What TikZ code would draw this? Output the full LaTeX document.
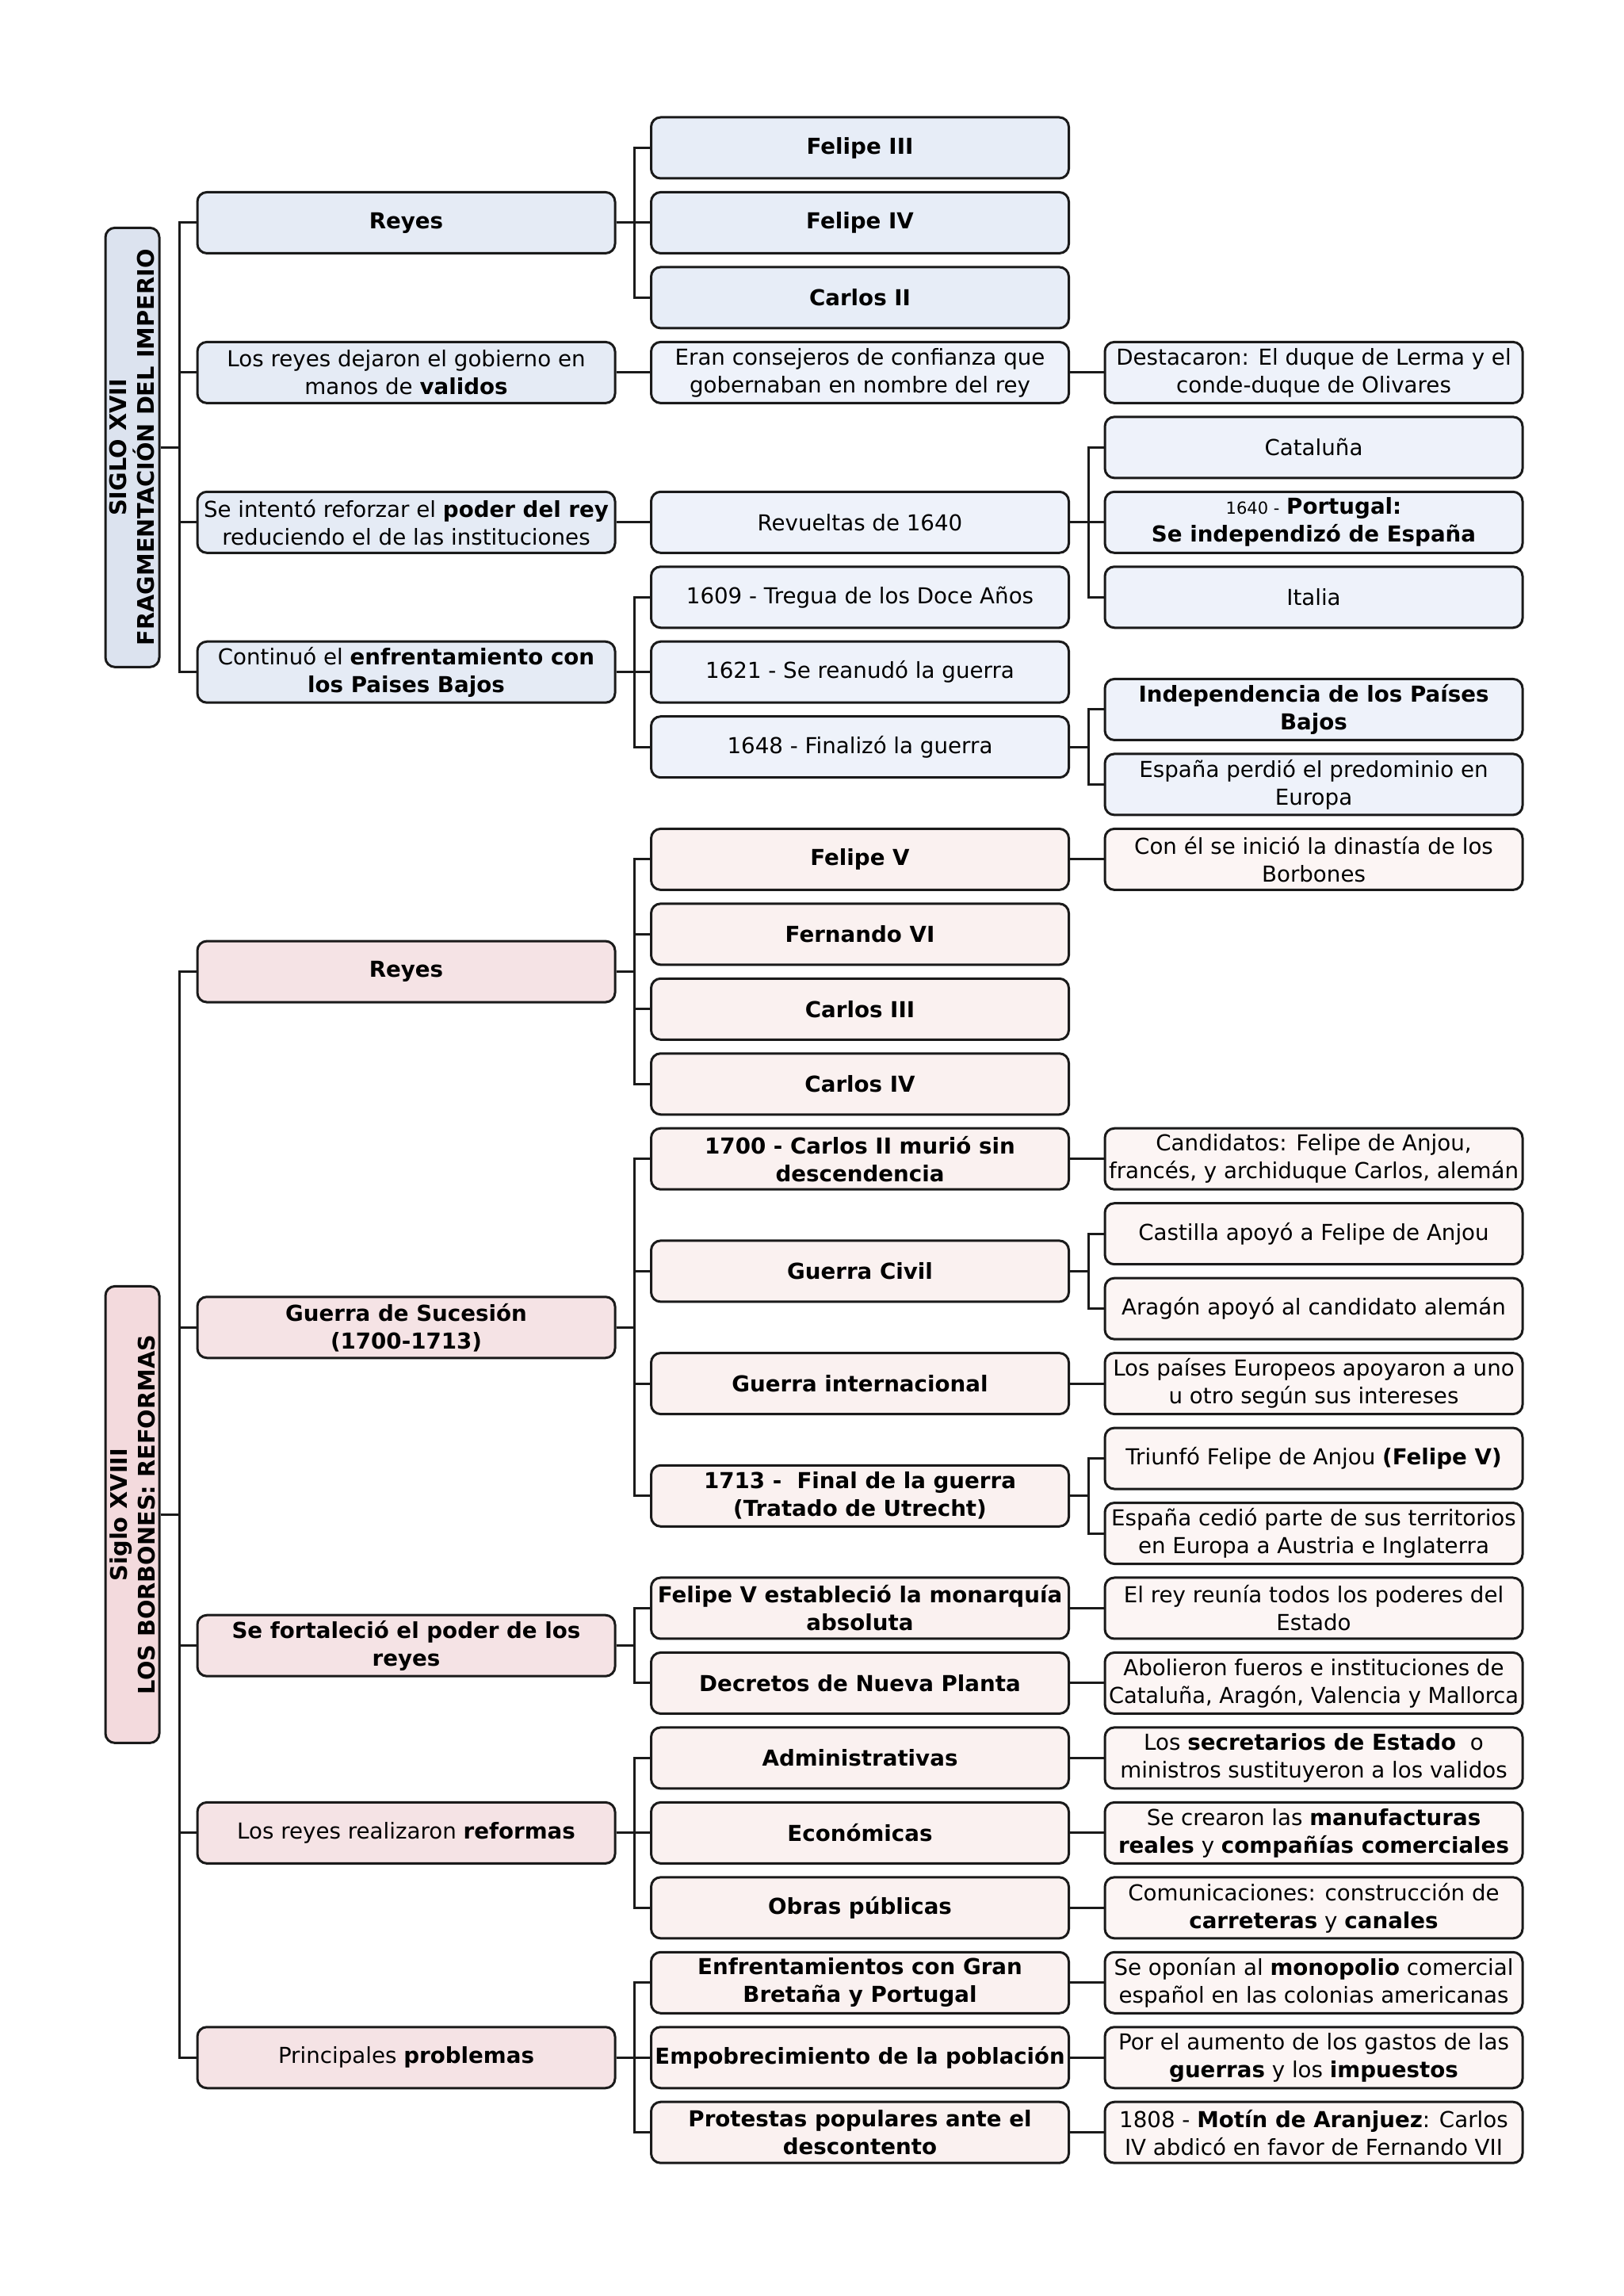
\documentclass[tikz,border=0pt]{standalone}
\usepackage{fontspec}
\setmainfont{DejaVu Sans}
\usetikzlibrary{backgrounds}
\definecolor{ink}{HTML}{1A1A1A}
\definecolor{tblue}{HTML}{DCE3EF}
\definecolor{blueA}{HTML}{E5EBF5}
\definecolor{blueK}{HTML}{E7EDF7}
\definecolor{blueB}{HTML}{EEF2FA}
\definecolor{tpink}{HTML}{F3DADD}
\definecolor{pinkA}{HTML}{F5E3E5}
\definecolor{pinkB}{HTML}{FAF1F0}
\definecolor{pinkC}{HTML}{FCF5F4}
\newsavebox\flbox
\newcommand\fl[1]{\sbox\flbox{#1}\ifdim\wd\flbox>517pt\resizebox{517pt}{\height}{\usebox\flbox}\else\usebox\flbox\fi}
\tikzset{
  box/.style={draw=ink, line width=3pt, rounded corners=12pt, minimum width=527pt,
    minimum height=77pt, align=center, inner xsep=2pt, inner ysep=2pt,
    font=\fontsize{27.7}{35}\selectfont},
  titlebox/.style={draw=ink, line width=3pt, rounded corners=12pt, minimum width=68pt},
  titletext/.style={rotate=90, align=center, inner sep=0pt,
    font=\fontsize{28.8}{35}\selectfont\bfseries},
  conn/.style={draw=ink, line width=3pt},
  bA/.style={box, fill=blueA}, bK/.style={box, fill=blueK}, bB/.style={box, fill=blueB},
  pA/.style={box, fill=pinkA}, pB/.style={box, fill=pinkB}, pC/.style={box, fill=pinkC}
}
\begin{document}
\begin{tikzpicture}[x=1pt, y=-94.46pt]
\useasboundingbox (0,-1.97438) rectangle (2048,28.6841);
% ---------- Siglo XVII ----------
\node[titlebox, fill=tblue, minimum height=554pt] (T1) at (167,4) {};
\node[titletext] (T1t) at (T1.center) {SIGLO XVII\\FRAGMENTACIÓN DEL IMPERIO};
\node[bA] (A1) at (512.5,1) {\bfseries Reyes};
\node[bA] (A2) at (512.5,3) {\fl{Los reyes dejaron el gobierno en}\\\fl{manos de \textbf{validos}}};
\node[bA] (A3) at (512.5,5) {\fl{Se intentó reforzar el \textbf{poder del rey}}\\\fl{reduciendo el de las instituciones}};
\node[bA] (A4) at (512.5,7) {\fl{Continuó el \textbf{enfrentamiento con}}\\\fl{\textbf{los Paises Bajos}}};
\node[bK] (B1) at (1085,0) {\bfseries Felipe III};
\node[bK] (B2) at (1085,1) {\bfseries Felipe IV};
\node[bK] (B3) at (1085,2) {\bfseries Carlos II};
\node[bB] (B4) at (1085,3) {\fl{Eran consejeros de confianza que}\\\fl{gobernaban en nombre del rey}};
\node[bB] (B5) at (1085,5) {Revueltas de 1640};
\node[bB] (B6) at (1085,6) {\fl{1609 - Tregua de los Doce Años}};
\node[bB] (B7) at (1085,7) {1621 - Se reanudó la guerra};
\node[bB] (B8) at (1085,8) {1648 - Finalizó la guerra};
\node[bB] (C4) at (1657.5,3) {\fl{Destacaron: El duque de Lerma y el}\\\fl{conde-duque de Olivares}};
\node[bB] (C5a) at (1657.5,4) {Cataluña};
\node[bB] (C5b) at (1657.5,5) {\fl{{\fontsize{21}{24}\selectfont 1640 -} \textbf{Portugal:}}\\\fl{\textbf{Se independizó de España}}};
\node[bB] (C5c) at (1657.5,6) {Italia};
\node[bB] (C8a) at (1657.5,7.5) {\fl{\textbf{Independencia de los Países}}\\\fl{\textbf{Bajos}}};
\node[bB] (C8b) at (1657.5,8.5) {\fl{España perdió el predominio en}\\\fl{Europa}};
% ---------- Siglo XVIII ----------
\node[titlebox, fill=tpink, minimum height=576pt] (T2) at (167,18.25) {};
\node[titletext] (T2t) at (T2.center) {Siglo XVIII\\LOS BORBONES: REFORMAS};
\node[pA] (D1) at (512.5,11) {\bfseries Reyes};
\node[pA] (D2) at (512.5,15.75) {\fl{\textbf{Guerra de Sucesión}}\\\fl{\textbf{(1700-1713)}}};
\node[pA] (D3) at (512.5,20) {\fl{\textbf{Se fortaleció el poder de los}}\\\fl{\textbf{reyes}}};
\node[pA] (D4) at (512.5,22.5) {\fl{Los reyes realizaron \textbf{reformas}}};
\node[pA] (D5) at (512.5,25.5) {\fl{Principales \textbf{problemas}}};
\node[pB] (E1) at (1085,9.5) {\bfseries Felipe V};
\node[pB] (E2) at (1085,10.5) {\bfseries Fernando VI};
\node[pB] (E3) at (1085,11.5) {\bfseries Carlos III};
\node[pB] (E4) at (1085,12.5) {\bfseries Carlos IV};
\node[pB] (E5) at (1085,13.5) {\fl{\textbf{1700 - Carlos II murió sin}}\\\fl{\textbf{descendencia}}};
\node[pB] (E6) at (1085,15) {\bfseries Guerra Civil};
\node[pB] (E7) at (1085,16.5) {\fl{\textbf{Guerra internacional}}};
\node[pB] (E8) at (1085,18) {\fl{\textbf{1713 -~~Final de la guerra}}\\\fl{\textbf{(Tratado de Utrecht)}}};
\node[pB] (E9) at (1085,19.5) {\fl{\textbf{Felipe V estableció la monarquía}}\\\fl{\textbf{absoluta}}};
\node[pB] (E10) at (1085,20.5) {\fl{\textbf{Decretos de Nueva Planta}}};
\node[pB] (E11) at (1085,21.5) {\bfseries Administrativas};
\node[pB] (E12) at (1085,22.5) {\bfseries Económicas};
\node[pB] (E13) at (1085,23.5) {\bfseries Obras públicas};
\node[pB] (E14) at (1085,24.5) {\fl{\textbf{Enfrentamientos con Gran}}\\\fl{\textbf{Bretaña y Portugal}}};
\node[pB] (E15) at (1085,25.5) {\fl{\textbf{Empobrecimiento de la población}}};
\node[pB] (E16) at (1085,26.5) {\fl{\textbf{Protestas populares ante el}}\\\fl{\textbf{descontento}}};
\node[pC] (F1) at (1657.5,9.5) {\fl{Con él se inició la dinastía de los}\\\fl{Borbones}};
\node[pC] (F5) at (1657.5,13.5) {\fl{Candidatos: Felipe de Anjou,}\\\fl{francés, y archiduque Carlos, alemán}};
\node[pC] (F6a) at (1657.5,14.5) {\fl{Castilla apoyó a Felipe de Anjou}};
\node[pC] (F6b) at (1657.5,15.5) {\fl{Aragón apoyó al candidato alemán}};
\node[pC] (F7) at (1657.5,16.5) {\fl{Los países Europeos apoyaron a uno}\\\fl{u otro según sus intereses}};
\node[pC] (F8a) at (1657.5,17.5) {\fl{Triunfó Felipe de Anjou \textbf{(Felipe V)}}};
\node[pC] (F8b) at (1657.5,18.5) {\fl{España cedió parte de sus territorios}\\\fl{en Europa a Austria e Inglaterra}};
\node[pC] (F9) at (1657.5,19.5) {\fl{El rey reunía todos los poderes del}\\\fl{Estado}};
\node[pC] (F10) at (1657.5,20.5) {\fl{Abolieron fueros e instituciones de}\\\fl{Cataluña, Aragón, Valencia y Mallorca}};
\node[pC] (F11) at (1657.5,21.5) {\fl{Los \textbf{secretarios de Estado}~~o}\\\fl{ministros sustituyeron a los validos}};
\node[pC] (F12) at (1657.5,22.5) {\fl{Se crearon las \textbf{manufacturas}}\\\fl{\textbf{reales} y \textbf{compañías comerciales}}};
\node[pC] (F13) at (1657.5,23.5) {\fl{Comunicaciones: construcción de}\\\fl{\textbf{carreteras} y \textbf{canales}}};
\node[pC] (F14) at (1657.5,24.5) {\fl{Se oponían al \textbf{monopolio} comercial}\\\fl{español en las colonias americanas}};
\node[pC] (F15) at (1657.5,25.5) {\fl{Por el aumento de los gastos de las}\\\fl{\textbf{guerras} y los \textbf{impuestos}}};
\node[pC] (F16) at (1657.5,26.5) {\fl{1808 - \textbf{Motín de Aranjuez}: Carlos}\\\fl{IV abdicó en favor de Fernando VII}};
% ---------- connectors ----------
\begin{pgfonlayer}{background}
\fill[white] (0,-1.97438) rectangle (2048,28.6841);
\foreach \c in {A1,A2,A3,A4} \draw[conn] (T1.east) -- ++(24,0) |- (\c.west);
\foreach \c in {B1,B2,B3} \draw[conn] (A1.east) -- ++(23,0) |- (\c.west);
\draw[conn] (A2.east) -- (B4.west);
\draw[conn] (B4.east) -- (C4.west);
\draw[conn] (A3.east) -- (B5.west);
\foreach \c in {C5a,C5b,C5c} \draw[conn] (B5.east) -- ++(23,0) |- (\c.west);
\foreach \c in {B6,B7,B8} \draw[conn] (A4.east) -- ++(23,0) |- (\c.west);
\foreach \c in {C8a,C8b} \draw[conn] (B8.east) -- ++(23,0) |- (\c.west);
\foreach \c in {D1,D2,D3,D4,D5} \draw[conn] (T2.east) -- ++(24,0) |- (\c.west);
\foreach \c in {E1,E2,E3,E4} \draw[conn] (D1.east) -- ++(23,0) |- (\c.west);
\foreach \c in {E5,E6,E7,E8} \draw[conn] (D2.east) -- ++(23,0) |- (\c.west);
\foreach \c in {E9,E10} \draw[conn] (D3.east) -- ++(23,0) |- (\c.west);
\foreach \c in {E11,E12,E13} \draw[conn] (D4.east) -- ++(23,0) |- (\c.west);
\foreach \c in {E14,E15,E16} \draw[conn] (D5.east) -- ++(23,0) |- (\c.west);
\draw[conn] (E1.east) -- (F1.west);
\draw[conn] (E5.east) -- (F5.west);
\foreach \c in {F6a,F6b} \draw[conn] (E6.east) -- ++(23,0) |- (\c.west);
\draw[conn] (E7.east) -- (F7.west);
\foreach \c in {F8a,F8b} \draw[conn] (E8.east) -- ++(23,0) |- (\c.west);
\draw[conn] (E9.east) -- (F9.west);
\draw[conn] (E10.east) -- (F10.west);
\draw[conn] (E11.east) -- (F11.west);
\draw[conn] (E12.east) -- (F12.west);
\draw[conn] (E13.east) -- (F13.west);
\draw[conn] (E14.east) -- (F14.west);
\draw[conn] (E15.east) -- (F15.west);
\draw[conn] (E16.east) -- (F16.west);
\end{pgfonlayer}
\end{tikzpicture}
\end{document}
